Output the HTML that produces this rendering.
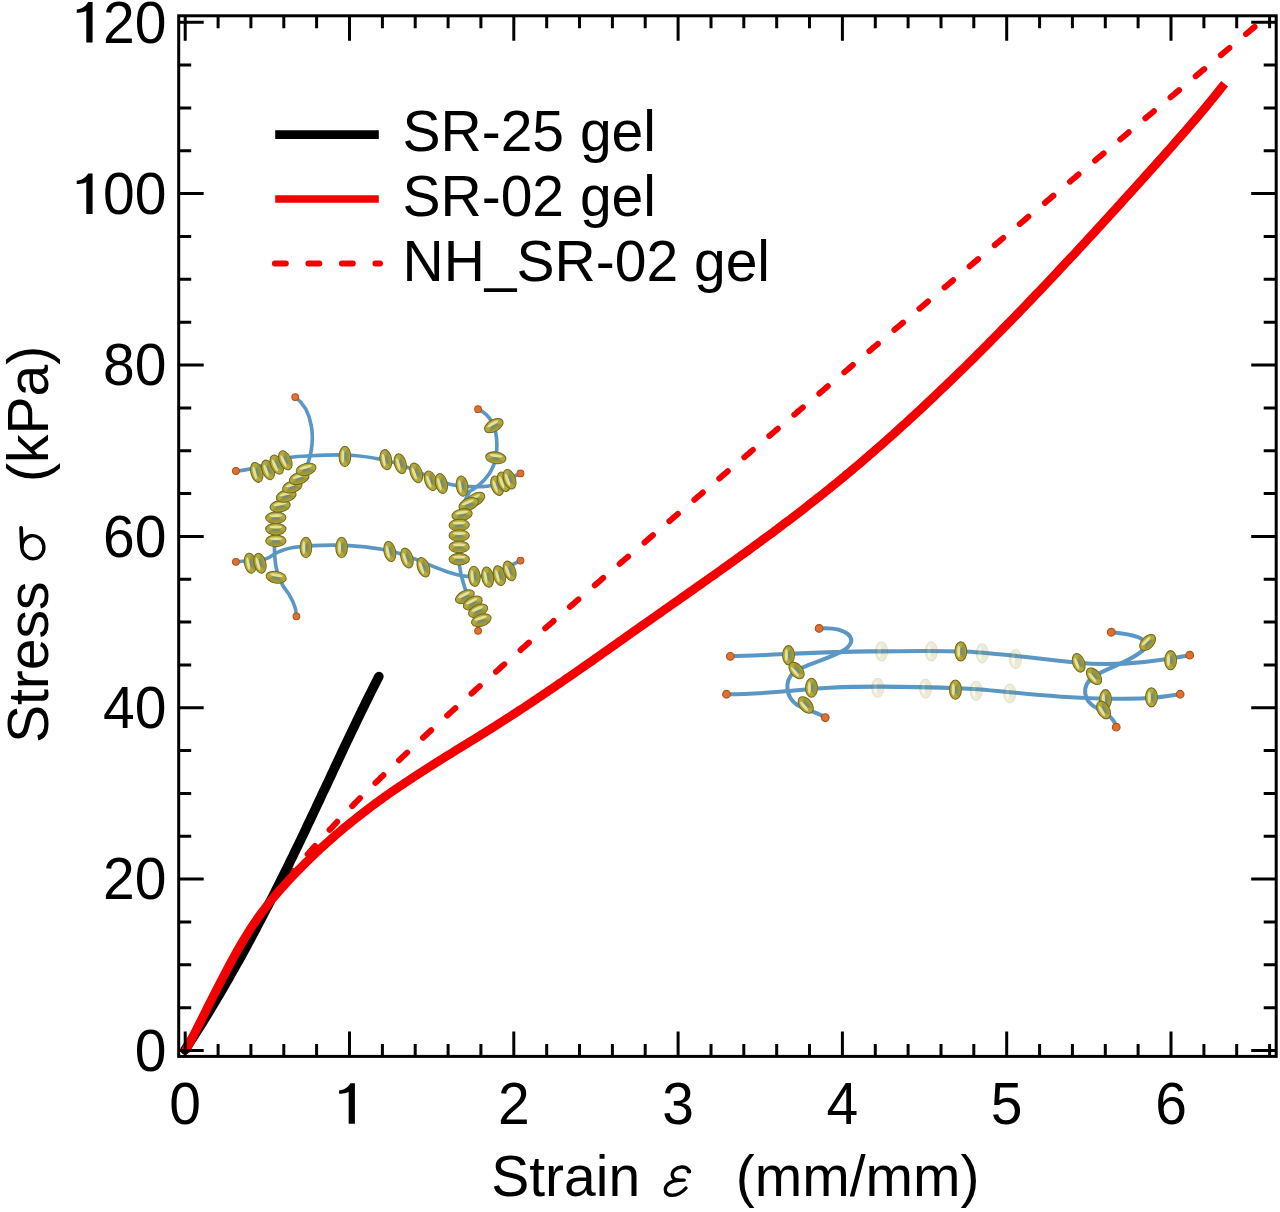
<!DOCTYPE html><html><head><meta charset="utf-8"><title>Stress-strain</title>
<style>html,body{margin:0;padding:0;background:#fff;}svg{display:block;}text{font-family:"Liberation Sans",sans-serif;}</style></head><body>
<svg width="1280" height="1212" viewBox="0 0 1280 1212">
<rect width="1280" height="1212" fill="#fff"/>
<g transform="translate(225,385) scale(0.24219)">
<path d="M45,355 C150,350 200,300 300,295 S450,285 520,290 S700,310 800,360 S950,420 1040,420 S1150,395 1220,365" fill="none" stroke="#5a97c5" stroke-width="15" stroke-linecap="round"/>
<path d="M290,50 C360,100 380,220 340,330 C300,420 210,500 205,620 C200,720 210,780 240,830 C280,880 295,920 295,955" fill="none" stroke="#5a97c5" stroke-width="15" stroke-linecap="round"/>
<path d="M45,730 C120,720 160,735 200,700 C250,670 300,665 400,662 S600,665 700,690 S900,780 1000,790 S1150,760 1220,725" fill="none" stroke="#5a97c5" stroke-width="15" stroke-linecap="round"/>
<path d="M1045,100 C1110,130 1130,200 1120,290 C1110,360 1060,410 1010,440 C960,520 955,650 965,730 C975,800 990,860 1030,920 C1050,960 1045,990 1045,1015" fill="none" stroke="#5a97c5" stroke-width="15" stroke-linecap="round"/>
<g transform="translate(131.0,361.0) rotate(-15.0)" opacity="1.0"><ellipse rx="24.0" ry="42.0" fill="#b0a840" stroke="#716a18" stroke-width="4.3"/><ellipse cx="10.1" rx="7.7" ry="30.2" fill="#8a8226" opacity="0.5"/><ellipse cx="-8.6" rx="6.2" ry="26.9" fill="#e8e08e"/><ellipse cx="2.9" rx="4.8" ry="18.5" fill="#6f8c84"/></g>
<g transform="translate(177.7,350.5) rotate(-20.0)" opacity="1.0"><ellipse rx="24.0" ry="42.0" fill="#b0a840" stroke="#716a18" stroke-width="4.3"/><ellipse cx="10.1" rx="7.7" ry="30.2" fill="#8a8226" opacity="0.5"/><ellipse cx="-8.6" rx="6.2" ry="26.9" fill="#e8e08e"/><ellipse cx="2.9" rx="4.8" ry="18.5" fill="#6f8c84"/></g>
<g transform="translate(213.6,328.9) rotate(-25.0)" opacity="1.0"><ellipse rx="24.0" ry="42.0" fill="#b0a840" stroke="#716a18" stroke-width="4.3"/><ellipse cx="10.1" rx="7.7" ry="30.2" fill="#8a8226" opacity="0.5"/><ellipse cx="-8.6" rx="6.2" ry="26.9" fill="#e8e08e"/><ellipse cx="2.9" rx="4.8" ry="18.5" fill="#6f8c84"/></g>
<g transform="translate(249.0,311.1) rotate(-25.0)" opacity="1.0"><ellipse rx="24.0" ry="42.0" fill="#b0a840" stroke="#716a18" stroke-width="4.3"/><ellipse cx="10.1" rx="7.7" ry="30.2" fill="#8a8226" opacity="0.5"/><ellipse cx="-8.6" rx="6.2" ry="26.9" fill="#e8e08e"/><ellipse cx="2.9" rx="4.8" ry="18.5" fill="#6f8c84"/></g>
<g transform="translate(495.0,295.0) rotate(0.0)" opacity="1.0"><ellipse rx="24.0" ry="42.0" fill="#b0a840" stroke="#716a18" stroke-width="4.3"/><ellipse cx="10.1" rx="7.7" ry="30.2" fill="#8a8226" opacity="0.5"/><ellipse cx="-8.6" rx="6.2" ry="26.9" fill="#e8e08e"/><ellipse cx="2.9" rx="4.8" ry="18.5" fill="#6f8c84"/></g>
<g transform="translate(664.0,308.5) rotate(-10.0)" opacity="1.0"><ellipse rx="24.0" ry="42.0" fill="#b0a840" stroke="#716a18" stroke-width="4.3"/><ellipse cx="10.1" rx="7.7" ry="30.2" fill="#8a8226" opacity="0.5"/><ellipse cx="-8.6" rx="6.2" ry="26.9" fill="#e8e08e"/><ellipse cx="2.9" rx="4.8" ry="18.5" fill="#6f8c84"/></g>
<g transform="translate(723.8,325.0) rotate(-15.0)" opacity="1.0"><ellipse rx="24.0" ry="42.0" fill="#b0a840" stroke="#716a18" stroke-width="4.3"/><ellipse cx="10.1" rx="7.7" ry="30.2" fill="#8a8226" opacity="0.5"/><ellipse cx="-8.6" rx="6.2" ry="26.9" fill="#e8e08e"/><ellipse cx="2.9" rx="4.8" ry="18.5" fill="#6f8c84"/></g>
<g transform="translate(789.5,362.9) rotate(-20.0)" opacity="1.0"><ellipse rx="24.0" ry="42.0" fill="#b0a840" stroke="#716a18" stroke-width="4.3"/><ellipse cx="10.1" rx="7.7" ry="30.2" fill="#8a8226" opacity="0.5"/><ellipse cx="-8.6" rx="6.2" ry="26.9" fill="#e8e08e"/><ellipse cx="2.9" rx="4.8" ry="18.5" fill="#6f8c84"/></g>
<g transform="translate(849.4,395.6) rotate(-20.0)" opacity="1.0"><ellipse rx="24.0" ry="42.0" fill="#b0a840" stroke="#716a18" stroke-width="4.3"/><ellipse cx="10.1" rx="7.7" ry="30.2" fill="#8a8226" opacity="0.5"/><ellipse cx="-8.6" rx="6.2" ry="26.9" fill="#e8e08e"/><ellipse cx="2.9" rx="4.8" ry="18.5" fill="#6f8c84"/></g>
<g transform="translate(893.1,406.7) rotate(-15.0)" opacity="1.0"><ellipse rx="24.0" ry="42.0" fill="#b0a840" stroke="#716a18" stroke-width="4.3"/><ellipse cx="10.1" rx="7.7" ry="30.2" fill="#8a8226" opacity="0.5"/><ellipse cx="-8.6" rx="6.2" ry="26.9" fill="#e8e08e"/><ellipse cx="2.9" rx="4.8" ry="18.5" fill="#6f8c84"/></g>
<g transform="translate(1033.9,472.4) rotate(60.0)" opacity="1.0"><ellipse rx="24.0" ry="42.0" fill="#b0a840" stroke="#716a18" stroke-width="4.3"/><ellipse cx="10.1" rx="7.7" ry="30.2" fill="#8a8226" opacity="0.5"/><ellipse cx="-8.6" rx="6.2" ry="26.9" fill="#e8e08e"/><ellipse cx="2.9" rx="4.8" ry="18.5" fill="#6f8c84"/></g>
<g transform="translate(1006.3,492.2) rotate(68.0)" opacity="1.0"><ellipse rx="24.0" ry="42.0" fill="#b0a840" stroke="#716a18" stroke-width="4.3"/><ellipse cx="10.1" rx="7.7" ry="30.2" fill="#8a8226" opacity="0.5"/><ellipse cx="-8.6" rx="6.2" ry="26.9" fill="#e8e08e"/><ellipse cx="2.9" rx="4.8" ry="18.5" fill="#6f8c84"/></g>
<g transform="translate(979.0,535.2) rotate(80.0)" opacity="1.0"><ellipse rx="24.0" ry="42.0" fill="#b0a840" stroke="#716a18" stroke-width="4.3"/><ellipse cx="10.1" rx="7.7" ry="30.2" fill="#8a8226" opacity="0.5"/><ellipse cx="-8.6" rx="6.2" ry="26.9" fill="#e8e08e"/><ellipse cx="2.9" rx="4.8" ry="18.5" fill="#6f8c84"/></g>
<g transform="translate(967.0,578.0) rotate(88.0)" opacity="1.0"><ellipse rx="24.0" ry="42.0" fill="#b0a840" stroke="#716a18" stroke-width="4.3"/><ellipse cx="10.1" rx="7.7" ry="30.2" fill="#8a8226" opacity="0.5"/><ellipse cx="-8.6" rx="6.2" ry="26.9" fill="#e8e08e"/><ellipse cx="2.9" rx="4.8" ry="18.5" fill="#6f8c84"/></g>
<g transform="translate(967.0,621.4) rotate(90.0)" opacity="1.0"><ellipse rx="24.0" ry="42.0" fill="#b0a840" stroke="#716a18" stroke-width="4.3"/><ellipse cx="10.1" rx="7.7" ry="30.2" fill="#8a8226" opacity="0.5"/><ellipse cx="-8.6" rx="6.2" ry="26.9" fill="#e8e08e"/><ellipse cx="2.9" rx="4.8" ry="18.5" fill="#6f8c84"/></g>
<g transform="translate(967.0,668.5) rotate(90.0)" opacity="1.0"><ellipse rx="24.0" ry="42.0" fill="#b0a840" stroke="#716a18" stroke-width="4.3"/><ellipse cx="10.1" rx="7.7" ry="30.2" fill="#8a8226" opacity="0.5"/><ellipse cx="-8.6" rx="6.2" ry="26.9" fill="#e8e08e"/><ellipse cx="2.9" rx="4.8" ry="18.5" fill="#6f8c84"/></g>
<g transform="translate(967.0,719.3) rotate(90.0)" opacity="1.0"><ellipse rx="24.0" ry="42.0" fill="#b0a840" stroke="#716a18" stroke-width="4.3"/><ellipse cx="10.1" rx="7.7" ry="30.2" fill="#8a8226" opacity="0.5"/><ellipse cx="-8.6" rx="6.2" ry="26.9" fill="#e8e08e"/><ellipse cx="2.9" rx="4.8" ry="18.5" fill="#6f8c84"/></g>
<g transform="translate(979.0,417.4) rotate(-8.0)" opacity="1.0"><ellipse rx="24.0" ry="42.0" fill="#b0a840" stroke="#716a18" stroke-width="4.3"/><ellipse cx="10.1" rx="7.7" ry="30.2" fill="#8a8226" opacity="0.5"/><ellipse cx="-8.6" rx="6.2" ry="26.9" fill="#e8e08e"/><ellipse cx="2.9" rx="4.8" ry="18.5" fill="#6f8c84"/></g>
<g transform="translate(1123.5,416.2) rotate(-20.0)" opacity="1.0"><ellipse rx="24.0" ry="42.0" fill="#b0a840" stroke="#716a18" stroke-width="4.3"/><ellipse cx="10.1" rx="7.7" ry="30.2" fill="#8a8226" opacity="0.5"/><ellipse cx="-8.6" rx="6.2" ry="26.9" fill="#e8e08e"/><ellipse cx="2.9" rx="4.8" ry="18.5" fill="#6f8c84"/></g>
<g transform="translate(1150.7,399.3) rotate(-20.0)" opacity="1.0"><ellipse rx="24.0" ry="42.0" fill="#b0a840" stroke="#716a18" stroke-width="4.3"/><ellipse cx="10.1" rx="7.7" ry="30.2" fill="#8a8226" opacity="0.5"/><ellipse cx="-8.6" rx="6.2" ry="26.9" fill="#e8e08e"/><ellipse cx="2.9" rx="4.8" ry="18.5" fill="#6f8c84"/></g>
<g transform="translate(1174.7,388.9) rotate(-20.0)" opacity="1.0"><ellipse rx="24.0" ry="42.0" fill="#b0a840" stroke="#716a18" stroke-width="4.3"/><ellipse cx="10.1" rx="7.7" ry="30.2" fill="#8a8226" opacity="0.5"/><ellipse cx="-8.6" rx="6.2" ry="26.9" fill="#e8e08e"/><ellipse cx="2.9" rx="4.8" ry="18.5" fill="#6f8c84"/></g>
<g transform="translate(1109.9,167.6) rotate(60.0)" opacity="1.0"><ellipse rx="24.0" ry="42.0" fill="#b0a840" stroke="#716a18" stroke-width="4.3"/><ellipse cx="10.1" rx="7.7" ry="30.2" fill="#8a8226" opacity="0.5"/><ellipse cx="-8.6" rx="6.2" ry="26.9" fill="#e8e08e"/><ellipse cx="2.9" rx="4.8" ry="18.5" fill="#6f8c84"/></g>
<g transform="translate(1118.1,300.6) rotate(98.0)" opacity="1.0"><ellipse rx="24.0" ry="42.0" fill="#b0a840" stroke="#716a18" stroke-width="4.3"/><ellipse cx="10.1" rx="7.7" ry="30.2" fill="#8a8226" opacity="0.5"/><ellipse cx="-8.6" rx="6.2" ry="26.9" fill="#e8e08e"/><ellipse cx="2.9" rx="4.8" ry="18.5" fill="#6f8c84"/></g>
<g transform="translate(209.8,643.3) rotate(90.0)" opacity="1.0"><ellipse rx="24.0" ry="42.0" fill="#b0a840" stroke="#716a18" stroke-width="4.3"/><ellipse cx="10.1" rx="7.7" ry="30.2" fill="#8a8226" opacity="0.5"/><ellipse cx="-8.6" rx="6.2" ry="26.9" fill="#e8e08e"/><ellipse cx="2.9" rx="4.8" ry="18.5" fill="#6f8c84"/></g>
<g transform="translate(209.8,595.0) rotate(90.0)" opacity="1.0"><ellipse rx="24.0" ry="42.0" fill="#b0a840" stroke="#716a18" stroke-width="4.3"/><ellipse cx="10.1" rx="7.7" ry="30.2" fill="#8a8226" opacity="0.5"/><ellipse cx="-8.6" rx="6.2" ry="26.9" fill="#e8e08e"/><ellipse cx="2.9" rx="4.8" ry="18.5" fill="#6f8c84"/></g>
<g transform="translate(209.8,548.0) rotate(88.0)" opacity="1.0"><ellipse rx="24.0" ry="42.0" fill="#b0a840" stroke="#716a18" stroke-width="4.3"/><ellipse cx="10.1" rx="7.7" ry="30.2" fill="#8a8226" opacity="0.5"/><ellipse cx="-8.6" rx="6.2" ry="26.9" fill="#e8e08e"/><ellipse cx="2.9" rx="4.8" ry="18.5" fill="#6f8c84"/></g>
<g transform="translate(227.5,500.0) rotate(80.0)" opacity="1.0"><ellipse rx="24.0" ry="42.0" fill="#b0a840" stroke="#716a18" stroke-width="4.3"/><ellipse cx="10.1" rx="7.7" ry="30.2" fill="#8a8226" opacity="0.5"/><ellipse cx="-8.6" rx="6.2" ry="26.9" fill="#e8e08e"/><ellipse cx="2.9" rx="4.8" ry="18.5" fill="#6f8c84"/></g>
<g transform="translate(252.7,458.0) rotate(74.0)" opacity="1.0"><ellipse rx="24.0" ry="42.0" fill="#b0a840" stroke="#716a18" stroke-width="4.3"/><ellipse cx="10.1" rx="7.7" ry="30.2" fill="#8a8226" opacity="0.5"/><ellipse cx="-8.6" rx="6.2" ry="26.9" fill="#e8e08e"/><ellipse cx="2.9" rx="4.8" ry="18.5" fill="#6f8c84"/></g>
<g transform="translate(277.9,420.0) rotate(72.0)" opacity="1.0"><ellipse rx="24.0" ry="42.0" fill="#b0a840" stroke="#716a18" stroke-width="4.3"/><ellipse cx="10.1" rx="7.7" ry="30.2" fill="#8a8226" opacity="0.5"/><ellipse cx="-8.6" rx="6.2" ry="26.9" fill="#e8e08e"/><ellipse cx="2.9" rx="4.8" ry="18.5" fill="#6f8c84"/></g>
<g transform="translate(306.4,385.0) rotate(72.0)" opacity="1.0"><ellipse rx="24.0" ry="42.0" fill="#b0a840" stroke="#716a18" stroke-width="4.3"/><ellipse cx="10.1" rx="7.7" ry="30.2" fill="#8a8226" opacity="0.5"/><ellipse cx="-8.6" rx="6.2" ry="26.9" fill="#e8e08e"/><ellipse cx="2.9" rx="4.8" ry="18.5" fill="#6f8c84"/></g>
<g transform="translate(334.9,348.0) rotate(75.0)" opacity="1.0"><ellipse rx="24.0" ry="42.0" fill="#b0a840" stroke="#716a18" stroke-width="4.3"/><ellipse cx="10.1" rx="7.7" ry="30.2" fill="#8a8226" opacity="0.5"/><ellipse cx="-8.6" rx="6.2" ry="26.9" fill="#e8e08e"/><ellipse cx="2.9" rx="4.8" ry="18.5" fill="#6f8c84"/></g>
<g transform="translate(104.2,736.0) rotate(-10.0)" opacity="1.0"><ellipse rx="24.0" ry="42.0" fill="#b0a840" stroke="#716a18" stroke-width="4.3"/><ellipse cx="10.1" rx="7.7" ry="30.2" fill="#8a8226" opacity="0.5"/><ellipse cx="-8.6" rx="6.2" ry="26.9" fill="#e8e08e"/><ellipse cx="2.9" rx="4.8" ry="18.5" fill="#6f8c84"/></g>
<g transform="translate(144.2,736.0) rotate(-15.0)" opacity="1.0"><ellipse rx="24.0" ry="42.0" fill="#b0a840" stroke="#716a18" stroke-width="4.3"/><ellipse cx="10.1" rx="7.7" ry="30.2" fill="#8a8226" opacity="0.5"/><ellipse cx="-8.6" rx="6.2" ry="26.9" fill="#e8e08e"/><ellipse cx="2.9" rx="4.8" ry="18.5" fill="#6f8c84"/></g>
<g transform="translate(211.4,793.6) rotate(100.0)" opacity="1.0"><ellipse rx="24.0" ry="42.0" fill="#b0a840" stroke="#716a18" stroke-width="4.3"/><ellipse cx="10.1" rx="7.7" ry="30.2" fill="#8a8226" opacity="0.5"/><ellipse cx="-8.6" rx="6.2" ry="26.9" fill="#e8e08e"/><ellipse cx="2.9" rx="4.8" ry="18.5" fill="#6f8c84"/></g>
<g transform="translate(334.1,671.0) rotate(0.0)" opacity="1.0"><ellipse rx="24.0" ry="42.0" fill="#b0a840" stroke="#716a18" stroke-width="4.3"/><ellipse cx="10.1" rx="7.7" ry="30.2" fill="#8a8226" opacity="0.5"/><ellipse cx="-8.6" rx="6.2" ry="26.9" fill="#e8e08e"/><ellipse cx="2.9" rx="4.8" ry="18.5" fill="#6f8c84"/></g>
<g transform="translate(481.5,671.0) rotate(0.0)" opacity="1.0"><ellipse rx="24.0" ry="42.0" fill="#b0a840" stroke="#716a18" stroke-width="4.3"/><ellipse cx="10.1" rx="7.7" ry="30.2" fill="#8a8226" opacity="0.5"/><ellipse cx="-8.6" rx="6.2" ry="26.9" fill="#e8e08e"/><ellipse cx="2.9" rx="4.8" ry="18.5" fill="#6f8c84"/></g>
<g transform="translate(680.5,687.5) rotate(-12.0)" opacity="1.0"><ellipse rx="24.0" ry="42.0" fill="#b0a840" stroke="#716a18" stroke-width="4.3"/><ellipse cx="10.1" rx="7.7" ry="30.2" fill="#8a8226" opacity="0.5"/><ellipse cx="-8.6" rx="6.2" ry="26.9" fill="#e8e08e"/><ellipse cx="2.9" rx="4.8" ry="18.5" fill="#6f8c84"/></g>
<g transform="translate(751.1,714.3) rotate(-18.0)" opacity="1.0"><ellipse rx="24.0" ry="42.0" fill="#b0a840" stroke="#716a18" stroke-width="4.3"/><ellipse cx="10.1" rx="7.7" ry="30.2" fill="#8a8226" opacity="0.5"/><ellipse cx="-8.6" rx="6.2" ry="26.9" fill="#e8e08e"/><ellipse cx="2.9" rx="4.8" ry="18.5" fill="#6f8c84"/></g>
<g transform="translate(819.2,752.7) rotate(-20.0)" opacity="1.0"><ellipse rx="24.0" ry="42.0" fill="#b0a840" stroke="#716a18" stroke-width="4.3"/><ellipse cx="10.1" rx="7.7" ry="30.2" fill="#8a8226" opacity="0.5"/><ellipse cx="-8.6" rx="6.2" ry="26.9" fill="#e8e08e"/><ellipse cx="2.9" rx="4.8" ry="18.5" fill="#6f8c84"/></g>
<g transform="translate(1029.4,789.9) rotate(-5.0)" opacity="1.0"><ellipse rx="24.0" ry="42.0" fill="#b0a840" stroke="#716a18" stroke-width="4.3"/><ellipse cx="10.1" rx="7.7" ry="30.2" fill="#8a8226" opacity="0.5"/><ellipse cx="-8.6" rx="6.2" ry="26.9" fill="#e8e08e"/><ellipse cx="2.9" rx="4.8" ry="18.5" fill="#6f8c84"/></g>
<g transform="translate(1084.3,793.2) rotate(-10.0)" opacity="1.0"><ellipse rx="24.0" ry="42.0" fill="#b0a840" stroke="#716a18" stroke-width="4.3"/><ellipse cx="10.1" rx="7.7" ry="30.2" fill="#8a8226" opacity="0.5"/><ellipse cx="-8.6" rx="6.2" ry="26.9" fill="#e8e08e"/><ellipse cx="2.9" rx="4.8" ry="18.5" fill="#6f8c84"/></g>
<g transform="translate(1133.0,787.0) rotate(-15.0)" opacity="1.0"><ellipse rx="24.0" ry="42.0" fill="#b0a840" stroke="#716a18" stroke-width="4.3"/><ellipse cx="10.1" rx="7.7" ry="30.2" fill="#8a8226" opacity="0.5"/><ellipse cx="-8.6" rx="6.2" ry="26.9" fill="#e8e08e"/><ellipse cx="2.9" rx="4.8" ry="18.5" fill="#6f8c84"/></g>
<g transform="translate(1175.1,767.6) rotate(-20.0)" opacity="1.0"><ellipse rx="24.0" ry="42.0" fill="#b0a840" stroke="#716a18" stroke-width="4.3"/><ellipse cx="10.1" rx="7.7" ry="30.2" fill="#8a8226" opacity="0.5"/><ellipse cx="-8.6" rx="6.2" ry="26.9" fill="#e8e08e"/><ellipse cx="2.9" rx="4.8" ry="18.5" fill="#6f8c84"/></g>
<g transform="translate(990.6,874.1) rotate(63.0)" opacity="1.0"><ellipse rx="24.0" ry="42.0" fill="#b0a840" stroke="#716a18" stroke-width="4.3"/><ellipse cx="10.1" rx="7.7" ry="30.2" fill="#8a8226" opacity="0.5"/><ellipse cx="-8.6" rx="6.2" ry="26.9" fill="#e8e08e"/><ellipse cx="2.9" rx="4.8" ry="18.5" fill="#6f8c84"/></g>
<g transform="translate(1022.8,900.0) rotate(63.0)" opacity="1.0"><ellipse rx="24.0" ry="42.0" fill="#b0a840" stroke="#716a18" stroke-width="4.3"/><ellipse cx="10.1" rx="7.7" ry="30.2" fill="#8a8226" opacity="0.5"/><ellipse cx="-8.6" rx="6.2" ry="26.9" fill="#e8e08e"/><ellipse cx="2.9" rx="4.8" ry="18.5" fill="#6f8c84"/></g>
<g transform="translate(1045.0,932.0) rotate(66.0)" opacity="1.0"><ellipse rx="24.0" ry="42.0" fill="#b0a840" stroke="#716a18" stroke-width="4.3"/><ellipse cx="10.1" rx="7.7" ry="30.2" fill="#8a8226" opacity="0.5"/><ellipse cx="-8.6" rx="6.2" ry="26.9" fill="#e8e08e"/><ellipse cx="2.9" rx="4.8" ry="18.5" fill="#6f8c84"/></g>
<g transform="translate(1058.4,971.0) rotate(72.0)" opacity="1.0"><ellipse rx="24.0" ry="42.0" fill="#b0a840" stroke="#716a18" stroke-width="4.3"/><ellipse cx="10.1" rx="7.7" ry="30.2" fill="#8a8226" opacity="0.5"/><ellipse cx="-8.6" rx="6.2" ry="26.9" fill="#e8e08e"/><ellipse cx="2.9" rx="4.8" ry="18.5" fill="#6f8c84"/></g>
<circle cx="290" cy="50" r="14" fill="#e0702e" stroke="#b0501a" stroke-width="4.2"/>
<circle cx="45" cy="355" r="14" fill="#e0702e" stroke="#b0501a" stroke-width="4.2"/>
<circle cx="1045" cy="100" r="14" fill="#e0702e" stroke="#b0501a" stroke-width="4.2"/>
<circle cx="1220" cy="365" r="14" fill="#e0702e" stroke="#b0501a" stroke-width="4.2"/>
<circle cx="45" cy="730" r="14" fill="#e0702e" stroke="#b0501a" stroke-width="4.2"/>
<circle cx="295" cy="955" r="14" fill="#e0702e" stroke="#b0501a" stroke-width="4.2"/>
<circle cx="1220" cy="725" r="14" fill="#e0702e" stroke="#b0501a" stroke-width="4.2"/>
<circle cx="1045" cy="1015" r="14" fill="#e0702e" stroke="#b0501a" stroke-width="4.2"/>
</g>
<g transform="translate(715,615) scale(0.38285)">
<path d="M40,108 C150,105 300,95 400,95 S600,92 680,97 S850,115 950,125 S1150,122 1240,105" fill="none" stroke="#5a97c5" stroke-width="10.5" stroke-linecap="round"/>
<path d="M30,207 C150,207 200,195 300,190 S550,188 650,192 S850,215 1000,218 S1150,215 1215,207" fill="none" stroke="#5a97c5" stroke-width="10.5" stroke-linecap="round"/>
<path d="M272,35 C340,30 380,60 340,90 C300,115 230,130 205,150 C180,175 185,215 215,235 C240,250 270,255 288,268" fill="none" stroke="#5a97c5" stroke-width="10.5" stroke-linecap="round"/>
<path d="M1035,45 C1090,50 1140,60 1120,90 C1090,120 1020,140 990,160 C955,185 960,225 1000,245 C1030,260 1045,275 1048,293" fill="none" stroke="#5a97c5" stroke-width="10.5" stroke-linecap="round"/>
<g transform="translate(435.0,95.0) rotate(0.0)" opacity="0.2"><ellipse rx="15.5" ry="25.0" fill="#b0a840" stroke="#716a18" stroke-width="2.8"/><ellipse cx="6.5" rx="5.0" ry="18.0" fill="#8a8226" opacity="0.5"/><ellipse cx="-5.6" rx="4.0" ry="16.0" fill="#e8e08e"/><ellipse cx="1.9" rx="3.1" ry="11.0" fill="#6f8c84"/></g>
<g transform="translate(565.0,95.0) rotate(0.0)" opacity="0.2"><ellipse rx="15.5" ry="25.0" fill="#b0a840" stroke="#716a18" stroke-width="2.8"/><ellipse cx="6.5" rx="5.0" ry="18.0" fill="#8a8226" opacity="0.5"/><ellipse cx="-5.6" rx="4.0" ry="16.0" fill="#e8e08e"/><ellipse cx="1.9" rx="3.1" ry="11.0" fill="#6f8c84"/></g>
<g transform="translate(698.0,100.0) rotate(0.0)" opacity="0.2"><ellipse rx="15.5" ry="25.0" fill="#b0a840" stroke="#716a18" stroke-width="2.8"/><ellipse cx="6.5" rx="5.0" ry="18.0" fill="#8a8226" opacity="0.5"/><ellipse cx="-5.6" rx="4.0" ry="16.0" fill="#e8e08e"/><ellipse cx="1.9" rx="3.1" ry="11.0" fill="#6f8c84"/></g>
<g transform="translate(785.0,115.0) rotate(0.0)" opacity="0.2"><ellipse rx="15.5" ry="25.0" fill="#b0a840" stroke="#716a18" stroke-width="2.8"/><ellipse cx="6.5" rx="5.0" ry="18.0" fill="#8a8226" opacity="0.5"/><ellipse cx="-5.6" rx="4.0" ry="16.0" fill="#e8e08e"/><ellipse cx="1.9" rx="3.1" ry="11.0" fill="#6f8c84"/></g>
<g transform="translate(425.0,190.0) rotate(0.0)" opacity="0.2"><ellipse rx="15.5" ry="25.0" fill="#b0a840" stroke="#716a18" stroke-width="2.8"/><ellipse cx="6.5" rx="5.0" ry="18.0" fill="#8a8226" opacity="0.5"/><ellipse cx="-5.6" rx="4.0" ry="16.0" fill="#e8e08e"/><ellipse cx="1.9" rx="3.1" ry="11.0" fill="#6f8c84"/></g>
<g transform="translate(550.0,192.0) rotate(0.0)" opacity="0.2"><ellipse rx="15.5" ry="25.0" fill="#b0a840" stroke="#716a18" stroke-width="2.8"/><ellipse cx="6.5" rx="5.0" ry="18.0" fill="#8a8226" opacity="0.5"/><ellipse cx="-5.6" rx="4.0" ry="16.0" fill="#e8e08e"/><ellipse cx="1.9" rx="3.1" ry="11.0" fill="#6f8c84"/></g>
<g transform="translate(682.0,198.0) rotate(0.0)" opacity="0.2"><ellipse rx="15.5" ry="25.0" fill="#b0a840" stroke="#716a18" stroke-width="2.8"/><ellipse cx="6.5" rx="5.0" ry="18.0" fill="#8a8226" opacity="0.5"/><ellipse cx="-5.6" rx="4.0" ry="16.0" fill="#e8e08e"/><ellipse cx="1.9" rx="3.1" ry="11.0" fill="#6f8c84"/></g>
<g transform="translate(770.0,205.0) rotate(0.0)" opacity="0.2"><ellipse rx="15.5" ry="25.0" fill="#b0a840" stroke="#716a18" stroke-width="2.8"/><ellipse cx="6.5" rx="5.0" ry="18.0" fill="#8a8226" opacity="0.5"/><ellipse cx="-5.6" rx="4.0" ry="16.0" fill="#e8e08e"/><ellipse cx="1.9" rx="3.1" ry="11.0" fill="#6f8c84"/></g>
<g transform="translate(192.0,105.0) rotate(0.0)" opacity="1.0"><ellipse rx="15.5" ry="25.0" fill="#b0a840" stroke="#716a18" stroke-width="2.8"/><ellipse cx="6.5" rx="5.0" ry="18.0" fill="#8a8226" opacity="0.5"/><ellipse cx="-5.6" rx="4.0" ry="16.0" fill="#e8e08e"/><ellipse cx="1.9" rx="3.1" ry="11.0" fill="#6f8c84"/></g>
<g transform="translate(213.0,145.0) rotate(-40.0)" opacity="1.0"><ellipse rx="15.5" ry="25.0" fill="#b0a840" stroke="#716a18" stroke-width="2.8"/><ellipse cx="6.5" rx="5.0" ry="18.0" fill="#8a8226" opacity="0.5"/><ellipse cx="-5.6" rx="4.0" ry="16.0" fill="#e8e08e"/><ellipse cx="1.9" rx="3.1" ry="11.0" fill="#6f8c84"/></g>
<g transform="translate(252.0,190.0) rotate(0.0)" opacity="1.0"><ellipse rx="15.5" ry="25.0" fill="#b0a840" stroke="#716a18" stroke-width="2.8"/><ellipse cx="6.5" rx="5.0" ry="18.0" fill="#8a8226" opacity="0.5"/><ellipse cx="-5.6" rx="4.0" ry="16.0" fill="#e8e08e"/><ellipse cx="1.9" rx="3.1" ry="11.0" fill="#6f8c84"/></g>
<g transform="translate(237.0,235.0) rotate(-40.0)" opacity="1.0"><ellipse rx="15.5" ry="25.0" fill="#b0a840" stroke="#716a18" stroke-width="2.8"/><ellipse cx="6.5" rx="5.0" ry="18.0" fill="#8a8226" opacity="0.5"/><ellipse cx="-5.6" rx="4.0" ry="16.0" fill="#e8e08e"/><ellipse cx="1.9" rx="3.1" ry="11.0" fill="#6f8c84"/></g>
<g transform="translate(642.0,95.0) rotate(0.0)" opacity="1.0"><ellipse rx="15.5" ry="25.0" fill="#b0a840" stroke="#716a18" stroke-width="2.8"/><ellipse cx="6.5" rx="5.0" ry="18.0" fill="#8a8226" opacity="0.5"/><ellipse cx="-5.6" rx="4.0" ry="16.0" fill="#e8e08e"/><ellipse cx="1.9" rx="3.1" ry="11.0" fill="#6f8c84"/></g>
<g transform="translate(628.0,195.0) rotate(0.0)" opacity="1.0"><ellipse rx="15.5" ry="25.0" fill="#b0a840" stroke="#716a18" stroke-width="2.8"/><ellipse cx="6.5" rx="5.0" ry="18.0" fill="#8a8226" opacity="0.5"/><ellipse cx="-5.6" rx="4.0" ry="16.0" fill="#e8e08e"/><ellipse cx="1.9" rx="3.1" ry="11.0" fill="#6f8c84"/></g>
<g transform="translate(950.0,125.0) rotate(-20.0)" opacity="1.0"><ellipse rx="15.5" ry="25.0" fill="#b0a840" stroke="#716a18" stroke-width="2.8"/><ellipse cx="6.5" rx="5.0" ry="18.0" fill="#8a8226" opacity="0.5"/><ellipse cx="-5.6" rx="4.0" ry="16.0" fill="#e8e08e"/><ellipse cx="1.9" rx="3.1" ry="11.0" fill="#6f8c84"/></g>
<g transform="translate(990.0,160.0) rotate(-40.0)" opacity="1.0"><ellipse rx="15.5" ry="25.0" fill="#b0a840" stroke="#716a18" stroke-width="2.8"/><ellipse cx="6.5" rx="5.0" ry="18.0" fill="#8a8226" opacity="0.5"/><ellipse cx="-5.6" rx="4.0" ry="16.0" fill="#e8e08e"/><ellipse cx="1.9" rx="3.1" ry="11.0" fill="#6f8c84"/></g>
<g transform="translate(1020.0,220.0) rotate(0.0)" opacity="1.0"><ellipse rx="15.5" ry="25.0" fill="#b0a840" stroke="#716a18" stroke-width="2.8"/><ellipse cx="6.5" rx="5.0" ry="18.0" fill="#8a8226" opacity="0.5"/><ellipse cx="-5.6" rx="4.0" ry="16.0" fill="#e8e08e"/><ellipse cx="1.9" rx="3.1" ry="11.0" fill="#6f8c84"/></g>
<g transform="translate(1015.0,248.0) rotate(-30.0)" opacity="1.0"><ellipse rx="15.5" ry="25.0" fill="#b0a840" stroke="#716a18" stroke-width="2.8"/><ellipse cx="6.5" rx="5.0" ry="18.0" fill="#8a8226" opacity="0.5"/><ellipse cx="-5.6" rx="4.0" ry="16.0" fill="#e8e08e"/><ellipse cx="1.9" rx="3.1" ry="11.0" fill="#6f8c84"/></g>
<g transform="translate(1130.0,72.0) rotate(45.0)" opacity="1.0"><ellipse rx="15.5" ry="25.0" fill="#b0a840" stroke="#716a18" stroke-width="2.8"/><ellipse cx="6.5" rx="5.0" ry="18.0" fill="#8a8226" opacity="0.5"/><ellipse cx="-5.6" rx="4.0" ry="16.0" fill="#e8e08e"/><ellipse cx="1.9" rx="3.1" ry="11.0" fill="#6f8c84"/></g>
<g transform="translate(1190.0,118.0) rotate(0.0)" opacity="1.0"><ellipse rx="15.5" ry="25.0" fill="#b0a840" stroke="#716a18" stroke-width="2.8"/><ellipse cx="6.5" rx="5.0" ry="18.0" fill="#8a8226" opacity="0.5"/><ellipse cx="-5.6" rx="4.0" ry="16.0" fill="#e8e08e"/><ellipse cx="1.9" rx="3.1" ry="11.0" fill="#6f8c84"/></g>
<g transform="translate(1140.0,215.0) rotate(0.0)" opacity="1.0"><ellipse rx="15.5" ry="25.0" fill="#b0a840" stroke="#716a18" stroke-width="2.8"/><ellipse cx="6.5" rx="5.0" ry="18.0" fill="#8a8226" opacity="0.5"/><ellipse cx="-5.6" rx="4.0" ry="16.0" fill="#e8e08e"/><ellipse cx="1.9" rx="3.1" ry="11.0" fill="#6f8c84"/></g>
<circle cx="40" cy="108" r="10" fill="#e0702e" stroke="#b0501a" stroke-width="3.0"/>
<circle cx="272" cy="35" r="10" fill="#e0702e" stroke="#b0501a" stroke-width="3.0"/>
<circle cx="30" cy="207" r="10" fill="#e0702e" stroke="#b0501a" stroke-width="3.0"/>
<circle cx="288" cy="268" r="10" fill="#e0702e" stroke="#b0501a" stroke-width="3.0"/>
<circle cx="1035" cy="45" r="10" fill="#e0702e" stroke="#b0501a" stroke-width="3.0"/>
<circle cx="1240" cy="105" r="10" fill="#e0702e" stroke="#b0501a" stroke-width="3.0"/>
<circle cx="1215" cy="207" r="10" fill="#e0702e" stroke="#b0501a" stroke-width="3.0"/>
<circle cx="1048" cy="293" r="10" fill="#e0702e" stroke="#b0501a" stroke-width="3.0"/>
</g>
<path d="M185.2,1051.4 L187.3,1047.3 L189.5,1043.2 L191.6,1039.0 L193.8,1034.8 L195.9,1030.6 L198.1,1026.4 L200.2,1022.1 L202.4,1017.8 L204.5,1013.6 L206.7,1009.3 L208.8,1005.0 L211.0,1000.7 L213.1,996.4 L215.3,992.2 L217.4,988.0 L219.6,983.8 L221.7,979.6 L223.9,975.4 L226.0,971.3 L228.2,967.3 L230.3,963.3 L232.5,959.3 L234.6,955.5 L236.8,951.6 L238.9,947.9 L241.1,944.2 L243.2,940.5 L245.4,937.0 L247.5,933.5 L249.7,930.1 L251.8,926.8 L254.0,923.5 L256.1,920.4 L258.3,917.3 L260.4,914.3 L262.6,911.4 L264.7,908.5 L266.9,905.7 L269.0,902.9 L271.2,900.1 L273.3,897.3 L275.5,894.5 L277.6,891.8 L279.8,889.0 L281.9,886.2 L284.1,883.4 L286.2,880.6 L288.4,877.8 L290.5,875.0 L292.7,872.2 L294.8,869.4 L297.0,866.7 L299.1,864.1 L301.3,861.6 L303.4,859.1 L305.6,856.6 L307.7,854.2 L309.9,851.7 L312.0,849.3 L314.2,846.9 L316.3,844.5 L318.5,842.1 L320.6,839.7 L322.8,837.3 L324.9,835.0 L327.1,832.6 L329.2,830.3 L331.4,828.0 L333.5,825.7 L335.7,823.4 L337.8,821.1 L340.0,818.8 L342.1,816.5 L344.3,814.3 L346.4,812.0 L348.6,809.8 L350.7,807.6 L352.9,805.4 L355.0,803.2 L357.2,801.0 L359.3,798.8 L361.5,796.7 L363.6,794.6 L365.8,792.4 L367.9,790.3 L370.1,788.2 L372.2,786.1 L374.4,784.0 L376.5,781.9 L378.7,779.8 L380.8,777.7 L383.0,775.6 L385.1,773.5 L387.3,771.5 L389.4,769.4 L391.6,767.4 L393.7,765.3 L395.9,763.3 L398.0,761.2 L400.2,759.2 L402.3,757.1 L404.5,755.1 L406.6,753.1 L408.8,751.1 L410.9,749.0 L413.1,747.0 L415.2,745.0 L417.4,743.0 L419.5,741.0 L421.7,739.0 L423.8,737.0 L426.0,735.0 L428.1,733.0 L430.3,731.1 L432.4,729.1 L434.6,727.1 L436.7,725.1 L438.9,723.1 L441.0,721.2 L443.2,719.2 L445.3,717.3 L447.5,715.3 L449.6,713.3 L451.8,711.4 L453.9,709.4 L456.1,707.5 L458.2,705.5 L460.4,703.6 L462.5,701.6 L464.7,699.7 L466.8,697.8 L469.0,695.8 L471.1,693.9 L473.3,692.0 L475.4,690.0 L477.6,688.1 L479.7,686.2 L481.9,684.3 L484.0,682.3 L486.2,680.4 L488.3,678.5 L490.5,676.6 L492.6,674.7 L494.8,672.8 L496.9,670.9 L499.1,669.0 L501.2,667.0 L503.4,665.1 L505.5,663.2 L507.7,661.3 L509.8,659.4 L512.0,657.5 L514.1,655.6 L516.3,653.7 L518.4,651.8 L520.6,650.0 L522.7,648.1 L524.9,646.2 L527.0,644.3 L529.2,642.4 L531.3,640.5 L533.5,638.6 L535.6,636.7 L537.8,634.9 L539.9,633.0 L542.1,631.1 L544.2,629.2 L546.4,627.3 L548.5,625.5 L550.7,623.6 L552.8,621.7 L555.0,619.8 L557.1,618.0 L559.3,616.1 L561.4,614.2 L563.6,612.3 L565.7,610.5 L567.9,608.6 L570.0,606.7 L572.2,604.9 L574.3,603.0 L576.5,601.1 L578.6,599.3 L580.8,597.4 L582.9,595.6 L585.1,593.7 L587.2,591.8 L589.4,590.0 L591.5,588.1 L593.7,586.2 L595.8,584.4 L598.0,582.5 L600.1,580.7 L602.3,578.8 L604.4,577.0 L606.6,575.1 L608.7,573.3 L610.9,571.4 L613.0,569.5 L615.2,567.7 L617.3,565.8 L619.5,564.0 L621.6,562.1 L623.8,560.3 L625.9,558.4 L628.1,556.6 L630.2,554.7 L632.4,552.9 L634.5,551.0 L636.7,549.2 L638.8,547.4 L641.0,545.5 L643.1,543.7 L645.3,541.8 L647.4,540.0 L649.6,538.1 L651.7,536.3 L653.9,534.4 L656.0,532.6 L658.2,530.8 L660.3,528.9 L662.5,527.1 L664.6,525.2 L666.8,523.4 L668.9,521.5 L671.1,519.7 L673.2,517.9 L675.4,516.0 L677.5,514.2 L679.7,512.3 L681.8,510.5 L684.0,508.7 L686.1,506.8 L688.3,505.0 L690.4,503.2 L692.6,501.3 L694.7,499.5 L696.9,497.6 L699.0,495.8 L701.2,494.0 L703.3,492.1 L705.5,490.3 L707.6,488.5 L709.8,486.6 L711.9,484.8 L714.1,483.0 L716.2,481.1 L718.4,479.3 L720.5,477.5 L722.7,475.6 L724.8,473.8 L727.0,472.0 L729.1,470.1 L731.3,468.3 L733.4,466.5 L735.6,464.6 L737.7,462.8 L739.9,461.0 L742.0,459.2 L744.2,457.3 L746.3,455.5 L748.5,453.7 L750.6,451.8 L752.8,450.0 L754.9,448.2 L757.1,446.3 L759.2,444.5 L761.4,442.7 L763.5,440.9 L765.7,439.0 L767.8,437.2 L770.0,435.4 L772.1,433.5 L774.3,431.7 L776.4,429.9 L778.6,428.1 L780.7,426.2 L782.9,424.4 L785.0,422.6 L787.2,420.8 L789.3,418.9 L791.5,417.1 L793.6,415.3 L795.8,413.5 L797.9,411.6 L800.1,409.8 L802.2,408.0 L804.4,406.2 L806.5,404.3 L808.7,402.5 L810.8,400.7 L813.0,398.9 L815.1,397.0 L817.3,395.2 L819.4,393.4 L821.6,391.6 L823.7,389.7 L825.9,387.9 L828.0,386.1 L830.2,384.3 L832.3,382.4 L834.5,380.6 L836.6,378.8 L838.8,377.0 L840.9,375.2 L843.1,373.3 L845.2,371.5 L847.4,369.7 L849.5,367.9 L851.7,366.0 L853.8,364.2 L856.0,362.4 L858.1,360.6 L860.3,358.8 L862.4,356.9 L864.6,355.1 L866.7,353.3 L868.9,351.5 L871.0,349.7 L873.2,347.8 L875.3,346.0 L877.5,344.2 L879.6,342.4 L881.8,340.5 L883.9,338.7 L886.1,336.9 L888.2,335.1 L890.4,333.3 L892.5,331.5 L894.7,329.6 L896.8,327.8 L899.0,326.0 L901.1,324.2 L903.3,322.4 L905.4,320.5 L907.6,318.7 L909.7,316.9 L911.9,315.1 L914.0,313.3 L916.2,311.4 L918.3,309.6 L920.5,307.8 L922.6,306.0 L924.8,304.2 L926.9,302.4 L929.1,300.5 L931.2,298.7 L933.4,296.9 L935.5,295.1 L937.7,293.3 L939.8,291.5 L942.0,289.6 L944.1,287.8 L946.3,286.0 L948.4,284.2 L950.6,282.4 L952.7,280.6 L954.9,278.7 L957.0,276.9 L959.2,275.1 L961.3,273.3 L963.5,271.5 L965.6,269.7 L967.8,267.8 L969.9,266.0 L972.1,264.2 L974.2,262.4 L976.4,260.6 L978.5,258.8 L980.7,257.0 L982.8,255.1 L985.0,253.3 L987.1,251.5 L989.3,249.7 L991.4,247.9 L993.6,246.1 L995.7,244.3 L997.9,242.4 L1000.0,240.6 L1002.2,238.8 L1004.3,237.0 L1006.5,235.2 L1008.6,233.4 L1010.8,231.6 L1012.9,229.7 L1015.1,227.9 L1017.2,226.1 L1019.4,224.3 L1021.5,222.5 L1023.7,220.7 L1025.8,218.9 L1028.0,217.1 L1030.1,215.2 L1032.3,213.4 L1034.4,211.6 L1036.6,209.8 L1038.7,208.0 L1040.9,206.2 L1043.0,204.4 L1045.2,202.6 L1047.3,200.8 L1049.5,198.9 L1051.6,197.1 L1053.8,195.3 L1055.9,193.5 L1058.1,191.7 L1060.2,189.9 L1062.4,188.1 L1064.5,186.3 L1066.7,184.5 L1068.8,182.7 L1071.0,180.8 L1073.1,179.0 L1075.3,177.2 L1077.4,175.4 L1079.6,173.6 L1081.7,171.8 L1083.9,170.0 L1086.0,168.2 L1088.2,166.4 L1090.3,164.6 L1092.5,162.8 L1094.6,161.0 L1096.8,159.1 L1098.9,157.3 L1101.1,155.5 L1103.2,153.7 L1105.4,151.9 L1107.5,150.1 L1109.7,148.3 L1111.8,146.5 L1114.0,144.7 L1116.1,142.9 L1118.3,141.1 L1120.4,139.3 L1122.6,137.5 L1124.7,135.7 L1126.9,133.9 L1129.0,132.0 L1131.2,130.2 L1133.3,128.4 L1135.5,126.6 L1137.6,124.8 L1139.8,123.0 L1141.9,121.2 L1144.1,119.4 L1146.2,117.6 L1148.4,115.8 L1150.5,114.0 L1152.7,112.2 L1154.8,110.4 L1157.0,108.6 L1159.1,106.8 L1161.3,105.0 L1163.4,103.2 L1165.6,101.4 L1167.7,99.6 L1169.9,97.8 L1172.0,96.0 L1174.2,94.2 L1176.3,92.4 L1178.5,90.6 L1180.6,88.8 L1182.8,87.0 L1184.9,85.2 L1187.1,83.4 L1189.2,81.6 L1191.4,79.8 L1193.5,78.0 L1195.7,76.2 L1197.8,74.4 L1200.0,72.6 L1202.1,70.8 L1204.3,69.0 L1206.4,67.2 L1208.6,65.4 L1210.7,63.6 L1212.9,61.8 L1215.0,60.0 L1217.2,58.2 L1219.3,56.4 L1221.5,54.6 L1223.6,52.8 L1225.8,51.0 L1227.9,49.2 L1230.1,47.4 L1232.2,45.6 L1234.4,43.8 L1236.5,42.0 L1238.7,40.2 L1240.8,38.4 L1243.0,36.6 L1245.1,34.8 L1247.3,33.0 L1249.4,31.2 L1251.6,29.4 L1253.7,27.6 L1255.9,25.9 L1258.0,24.1" fill="none" stroke="#f50000" stroke-width="6" stroke-linecap="round" stroke-dasharray="11.1 21.72" stroke-dashoffset="-3.17"/>
<path d="M185.0,1049.8 L187.5,1046.1 L189.9,1042.3 L192.4,1038.5 L194.8,1034.7 L197.3,1030.8 L199.7,1026.9 L202.2,1023.0 L204.6,1019.0 L207.1,1015.0 L209.5,1011.0 L212.0,1006.9 L214.5,1002.8 L216.9,998.7 L219.4,994.6 L221.8,990.4 L224.3,986.1 L226.7,981.9 L229.2,977.6 L231.6,973.3 L234.1,968.9 L236.5,964.5 L239.0,960.1 L241.5,955.7 L243.9,951.2 L246.4,946.7 L248.8,942.1 L251.3,937.6 L253.7,933.0 L256.2,928.4 L258.6,923.7 L261.1,919.0 L263.5,914.3 L266.0,909.6 L268.5,904.8 L270.9,900.0 L273.4,895.2 L275.8,890.4 L278.3,885.5 L280.7,880.6 L283.2,875.7 L285.6,870.8 L288.1,865.8 L290.5,860.8 L293.0,855.8 L295.4,850.7 L297.9,845.6 L300.4,840.5 L302.8,835.4 L305.3,830.3 L307.7,825.1 L310.2,819.9 L312.6,814.7 L315.1,809.5 L317.5,804.3 L320.0,799.1 L322.4,793.8 L324.9,788.6 L327.4,783.4 L329.8,778.1 L332.3,772.9 L334.7,767.6 L337.2,762.4 L339.6,757.2 L342.1,751.9 L344.5,746.7 L347.0,741.5 L349.4,736.4 L351.9,731.2 L354.4,726.1 L356.8,721.0 L359.3,715.9 L361.7,710.9 L364.2,705.9 L366.6,700.9 L369.1,695.9 L371.5,691.0 L374.0,686.1 L376.4,681.3 L378.9,676.5" fill="none" stroke="#000" stroke-width="9.5" stroke-linecap="round" stroke-linejoin="round"/>
<path d="M185.5,1050.8 L188.1,1045.9 L190.7,1040.8 L193.3,1035.8 L195.9,1030.7 L198.5,1025.5 L201.1,1020.4 L203.7,1015.2 L206.3,1010.0 L208.9,1004.8 L211.5,999.6 L214.1,994.5 L216.8,989.3 L219.4,984.2 L222.0,979.2 L224.6,974.2 L227.2,969.2 L229.8,964.4 L232.4,959.6 L235.0,954.9 L237.6,950.2 L240.2,945.7 L242.8,941.3 L245.4,937.0 L248.0,932.8 L250.6,928.7 L253.2,924.7 L255.8,920.9 L258.4,917.1 L261.0,913.5 L263.6,910.0 L266.2,906.6 L268.8,903.3 L271.4,900.0 L274.0,896.9 L276.6,893.8 L279.3,890.8 L281.9,887.9 L284.5,885.0 L287.1,882.1 L289.7,879.3 L292.3,876.5 L294.9,873.8 L297.5,871.1 L300.1,868.4 L302.7,865.8 L305.3,863.2 L307.9,860.6 L310.5,858.1 L313.1,855.6 L315.7,853.1 L318.3,850.7 L320.9,848.2 L323.5,845.9 L326.1,843.5 L328.7,841.2 L331.3,838.9 L333.9,836.6 L336.5,834.3 L339.2,832.1 L341.8,829.9 L344.4,827.7 L347.0,825.6 L349.6,823.5 L352.2,821.4 L354.8,819.3 L357.4,817.2 L360.0,815.2 L362.6,813.2 L365.2,811.2 L367.8,809.2 L370.4,807.2 L373.0,805.3 L375.6,803.4 L378.2,801.5 L380.8,799.6 L383.4,797.7 L386.0,795.9 L388.6,794.0 L391.2,792.2 L393.8,790.4 L396.4,788.6 L399.0,786.8 L401.7,785.1 L404.3,783.3 L406.9,781.6 L409.5,779.9 L412.1,778.2 L414.7,776.4 L417.3,774.7 L419.9,773.1 L422.5,771.4 L425.1,769.7 L427.7,768.1 L430.3,766.4 L432.9,764.8 L435.5,763.1 L438.1,761.5 L440.7,759.8 L443.3,758.2 L445.9,756.6 L448.5,755.0 L451.1,753.4 L453.7,751.8 L456.3,750.1 L458.9,748.5 L461.6,746.9 L464.2,745.3 L466.8,743.7 L469.4,742.1 L472.0,740.5 L474.6,738.9 L477.2,737.3 L479.8,735.7 L482.4,734.0 L485.0,732.4 L487.6,730.8 L490.2,729.2 L492.8,727.5 L495.4,725.9 L498.0,724.2 L500.6,722.6 L503.2,720.9 L505.8,719.2 L508.4,717.6 L511.0,715.9 L513.6,714.2 L516.2,712.5 L518.8,710.8 L521.4,709.1 L524.1,707.4 L526.7,705.6 L529.3,703.9 L531.9,702.2 L534.5,700.4 L537.1,698.7 L539.7,696.9 L542.3,695.2 L544.9,693.4 L547.5,691.7 L550.1,689.9 L552.7,688.1 L555.3,686.3 L557.9,684.5 L560.5,682.8 L563.1,681.0 L565.7,679.2 L568.3,677.4 L570.9,675.6 L573.5,673.8 L576.1,672.0 L578.7,670.2 L581.3,668.3 L584.0,666.5 L586.6,664.7 L589.2,662.9 L591.8,661.1 L594.4,659.2 L597.0,657.4 L599.6,655.6 L602.2,653.7 L604.8,651.9 L607.4,650.1 L610.0,648.2 L612.6,646.4 L615.2,644.6 L617.8,642.7 L620.4,640.9 L623.0,639.1 L625.6,637.2 L628.2,635.4 L630.8,633.5 L633.4,631.7 L636.0,629.9 L638.6,628.0 L641.2,626.2 L643.8,624.4 L646.5,622.5 L649.1,620.7 L651.7,618.8 L654.3,617.0 L656.9,615.2 L659.5,613.4 L662.1,611.5 L664.7,609.7 L667.3,607.9 L669.9,606.0 L672.5,604.2 L675.1,602.4 L677.7,600.6 L680.3,598.7 L682.9,596.9 L685.5,595.1 L688.1,593.2 L690.7,591.4 L693.3,589.6 L695.9,587.7 L698.5,585.9 L701.1,584.1 L703.7,582.2 L706.4,580.4 L709.0,578.5 L711.6,576.7 L714.2,574.9 L716.8,573.0 L719.4,571.2 L722.0,569.3 L724.6,567.4 L727.2,565.6 L729.8,563.7 L732.4,561.9 L735.0,560.0 L737.6,558.1 L740.2,556.2 L742.8,554.4 L745.4,552.5 L748.0,550.6 L750.6,548.7 L753.2,546.8 L755.8,544.9 L758.4,543.0 L761.0,541.1 L763.6,539.1 L766.3,537.2 L768.9,535.3 L771.5,533.4 L774.1,531.4 L776.7,529.5 L779.3,527.5 L781.9,525.6 L784.5,523.6 L787.1,521.6 L789.7,519.7 L792.3,517.7 L794.9,515.7 L797.5,513.7 L800.1,511.7 L802.7,509.7 L805.3,507.7 L807.9,505.6 L810.5,503.6 L813.1,501.6 L815.7,499.5 L818.3,497.4 L820.9,495.4 L823.5,493.3 L826.1,491.2 L828.8,489.1 L831.4,487.0 L834.0,484.9 L836.6,482.8 L839.2,480.7 L841.8,478.5 L844.4,476.4 L847.0,474.2 L849.6,472.1 L852.2,469.9 L854.8,467.7 L857.4,465.5 L860.0,463.3 L862.6,461.1 L865.2,458.8 L867.8,456.6 L870.4,454.3 L873.0,452.1 L875.6,449.8 L878.2,447.5 L880.8,445.3 L883.4,443.0 L886.0,440.7 L888.7,438.3 L891.3,436.0 L893.9,433.7 L896.5,431.4 L899.1,429.0 L901.7,426.6 L904.3,424.3 L906.9,421.9 L909.5,419.5 L912.1,417.1 L914.7,414.7 L917.3,412.3 L919.9,409.9 L922.5,407.5 L925.1,405.0 L927.7,402.6 L930.3,400.1 L932.9,397.7 L935.5,395.2 L938.1,392.7 L940.7,390.2 L943.3,387.8 L945.9,385.3 L948.5,382.7 L951.2,380.2 L953.8,377.7 L956.4,375.2 L959.0,372.6 L961.6,370.1 L964.2,367.6 L966.8,365.0 L969.4,362.4 L972.0,359.9 L974.6,357.3 L977.2,354.7 L979.8,352.1 L982.4,349.5 L985.0,346.9 L987.6,344.3 L990.2,341.6 L992.8,339.0 L995.4,336.4 L998.0,333.7 L1000.6,331.1 L1003.2,328.4 L1005.8,325.8 L1008.4,323.1 L1011.1,320.5 L1013.7,317.8 L1016.3,315.1 L1018.9,312.4 L1021.5,309.7 L1024.1,307.0 L1026.7,304.3 L1029.3,301.6 L1031.9,298.9 L1034.5,296.1 L1037.1,293.4 L1039.7,290.7 L1042.3,287.9 L1044.9,285.2 L1047.5,282.5 L1050.1,279.7 L1052.7,276.9 L1055.3,274.2 L1057.9,271.4 L1060.5,268.6 L1063.1,265.9 L1065.7,263.1 L1068.3,260.3 L1070.9,257.5 L1073.6,254.7 L1076.2,251.9 L1078.8,249.1 L1081.4,246.3 L1084.0,243.5 L1086.6,240.6 L1089.2,237.8 L1091.8,235.0 L1094.4,232.2 L1097.0,229.3 L1099.6,226.5 L1102.2,223.7 L1104.8,220.8 L1107.4,218.0 L1110.0,215.1 L1112.6,212.2 L1115.2,209.4 L1117.8,206.5 L1120.4,203.7 L1123.0,200.8 L1125.6,197.9 L1128.2,195.0 L1130.8,192.2 L1133.5,189.3 L1136.1,186.4 L1138.7,183.5 L1141.3,180.6 L1143.9,177.7 L1146.5,174.8 L1149.1,171.9 L1151.7,169.0 L1154.3,166.1 L1156.9,163.2 L1159.5,160.3 L1162.1,157.4 L1164.7,154.5 L1167.3,151.5 L1169.9,148.6 L1172.5,145.7 L1175.1,142.7 L1177.7,139.7 L1180.3,136.8 L1182.9,133.8 L1185.5,130.8 L1188.1,127.8 L1190.7,124.8 L1193.3,121.7 L1196.0,118.7 L1198.6,115.6 L1201.2,112.5 L1203.8,109.4 L1206.4,106.3 L1209.0,103.1 L1211.6,100.0 L1214.2,96.8 L1216.8,93.6 L1219.4,90.3 L1222.0,87.1 L1224.6,83.8" fill="none" stroke="#f50000" stroke-width="8.8" stroke-linecap="butt" stroke-linejoin="round"/>
<path d="M185.2,1056.4V1031.4M185.2,15.8V40.8M218.1,1056.4V1043.9M218.1,15.8V28.3M250.9,1056.4V1043.9M250.9,15.8V28.3M283.8,1056.4V1043.9M283.8,15.8V28.3M316.6,1056.4V1043.9M316.6,15.8V28.3M349.5,1056.4V1031.4M349.5,15.8V40.8M382.4,1056.4V1043.9M382.4,15.8V28.3M415.2,1056.4V1043.9M415.2,15.8V28.3M448.1,1056.4V1043.9M448.1,15.8V28.3M480.9,1056.4V1043.9M480.9,15.8V28.3M513.8,1056.4V1031.4M513.8,15.8V40.8M546.7,1056.4V1043.9M546.7,15.8V28.3M579.5,1056.4V1043.9M579.5,15.8V28.3M612.4,1056.4V1043.9M612.4,15.8V28.3M645.2,1056.4V1043.9M645.2,15.8V28.3M678.1,1056.4V1031.4M678.1,15.8V40.8M711.0,1056.4V1043.9M711.0,15.8V28.3M743.8,1056.4V1043.9M743.8,15.8V28.3M776.7,1056.4V1043.9M776.7,15.8V28.3M809.5,1056.4V1043.9M809.5,15.8V28.3M842.4,1056.4V1031.4M842.4,15.8V40.8M875.3,1056.4V1043.9M875.3,15.8V28.3M908.1,1056.4V1043.9M908.1,15.8V28.3M941.0,1056.4V1043.9M941.0,15.8V28.3M973.8,1056.4V1043.9M973.8,15.8V28.3M1006.7,1056.4V1031.4M1006.7,15.8V40.8M1039.6,1056.4V1043.9M1039.6,15.8V28.3M1072.4,1056.4V1043.9M1072.4,15.8V28.3M1105.3,1056.4V1043.9M1105.3,15.8V28.3M1138.1,1056.4V1043.9M1138.1,15.8V28.3M1171.0,1056.4V1031.4M1171.0,15.8V40.8M1203.9,1056.4V1043.9M1203.9,15.8V28.3M1236.7,1056.4V1043.9M1236.7,15.8V28.3M1269.6,1056.4V1043.9M1269.6,15.8V28.3M178.7,1050.5H203.7M1276.2,1050.5H1251.2M178.7,1007.7H191.2M1276.2,1007.7H1263.7M178.7,964.8H191.2M1276.2,964.8H1263.7M178.7,922.0H191.2M1276.2,922.0H1263.7M178.7,879.1H203.7M1276.2,879.1H1251.2M178.7,836.3H191.2M1276.2,836.3H1263.7M178.7,793.4H191.2M1276.2,793.4H1263.7M178.7,750.6H191.2M1276.2,750.6H1263.7M178.7,707.8H203.7M1276.2,707.8H1251.2M178.7,664.9H191.2M1276.2,664.9H1263.7M178.7,622.1H191.2M1276.2,622.1H1263.7M178.7,579.2H191.2M1276.2,579.2H1263.7M178.7,536.4H203.7M1276.2,536.4H1251.2M178.7,493.5H191.2M1276.2,493.5H1263.7M178.7,450.7H191.2M1276.2,450.7H1263.7M178.7,407.9H191.2M1276.2,407.9H1263.7M178.7,365.0H203.7M1276.2,365.0H1251.2M178.7,322.2H191.2M1276.2,322.2H1263.7M178.7,279.3H191.2M1276.2,279.3H1263.7M178.7,236.5H191.2M1276.2,236.5H1263.7M178.7,193.6H203.7M1276.2,193.6H1251.2M178.7,150.8H191.2M1276.2,150.8H1263.7M178.7,108.0H191.2M1276.2,108.0H1263.7M178.7,65.1H191.2M1276.2,65.1H1263.7M178.7,22.3H203.7M1276.2,22.3H1251.2" stroke="#000" stroke-width="3" fill="none"/>
<rect x="178.7" y="15.8" width="1097.5" height="1040.6" fill="none" stroke="#000" stroke-width="3"/>
<text transform="translate(166.40,1070.80) scale(1,1.03)" font-size="57" text-anchor="end">0</text>
<text transform="translate(166.40,899.43) scale(1,1.03)" font-size="57" text-anchor="end">20</text>
<text transform="translate(166.40,728.06) scale(1,1.03)" font-size="57" text-anchor="end">40</text>
<text transform="translate(166.40,556.69) scale(1,1.03)" font-size="57" text-anchor="end">60</text>
<text transform="translate(166.40,385.32) scale(1,1.03)" font-size="57" text-anchor="end">80</text>
<text transform="translate(166.40,213.95) scale(1,1.03)" font-size="57" text-anchor="end">00</text>
<path d="M0.373,0 L0.263,0 L0.263,0.56 C0.235,0.54 0.2,0.527 0.095,0.525 L0.095,0.582 C0.16,0.589 0.21,0.612 0.247,0.647 C0.27,0.67 0.285,0.692 0.295,0.71 L0.373,0.71 Z" transform="translate(71.32,213.95) scale(57,-57)" fill="#000"/>
<text transform="translate(166.40,42.58) scale(1,1.03)" font-size="57" text-anchor="end">20</text>
<path d="M0.373,0 L0.263,0 L0.263,0.56 C0.235,0.54 0.2,0.527 0.095,0.525 L0.095,0.582 C0.16,0.589 0.21,0.612 0.247,0.647 C0.27,0.67 0.285,0.692 0.295,0.71 L0.373,0.71 Z" transform="translate(71.32,42.58) scale(57,-57)" fill="#000"/>
<text transform="translate(185.20,1123.90) scale(1,1.03)" font-size="57" text-anchor="middle">0</text>
<path d="M0.373,0 L0.263,0 L0.263,0.56 C0.235,0.54 0.2,0.527 0.095,0.525 L0.095,0.582 C0.16,0.589 0.21,0.612 0.247,0.647 C0.27,0.67 0.285,0.692 0.295,0.71 L0.373,0.71 Z" transform="translate(333.65,1123.70) scale(57,-57)" fill="#000"/>
<text transform="translate(513.80,1123.90) scale(1,1.03)" font-size="57" text-anchor="middle">2</text>
<text transform="translate(678.10,1123.90) scale(1,1.03)" font-size="57" text-anchor="middle">3</text>
<text transform="translate(842.40,1123.90) scale(1,1.03)" font-size="57" text-anchor="middle">4</text>
<text transform="translate(1006.70,1123.90) scale(1,1.03)" font-size="57" text-anchor="middle">5</text>
<text transform="translate(1171.00,1123.90) scale(1,1.03)" font-size="57" text-anchor="middle">6</text>
<text x="491.2" y="1196.3" font-size="57">Strain</text>
<g fill="none" stroke="#000" stroke-width="3.4" stroke-linecap="round"><path d="M689.5,1171.5 C687.5,1167.8 684.5,1166.8 681.5,1167 C676,1167.4 671.8,1171 672.3,1175.2 C672.7,1178.3 675.5,1180.2 679.5,1180.2 L684.2,1180.1"/><path d="M678.5,1180.3 C671,1180.6 665.6,1184.5 665.3,1189.3 C665.1,1193.3 668.2,1195.3 672.3,1195.3 C677.5,1195.3 682.5,1192 686,1188"/></g>
<circle cx="688.8" cy="1171.2" r="2.2" fill="#000"/>
<text x="735.8" y="1196.3" font-size="57">(mm/mm)</text>
<g transform="translate(47.5,740.5) rotate(-90)">
<text x="-2.6" y="0" font-size="57">Stress</text>
<g fill="none" stroke="#000" stroke-linecap="round"><ellipse cx="193.3" cy="-14.6" rx="11.6" ry="11.0" stroke-width="3.4" transform="rotate(-8 193.3 -14.6)"/><path d="M194,-25.6 L212.5,-26.4" stroke-width="3.8"/></g>
<text x="258.5" y="0" font-size="57">(kPa)</text>
</g>
<line x1="275.2" y1="134.7" x2="378.8" y2="134.7" stroke="#000" stroke-width="8.7"/>
<line x1="275.2" y1="199.1" x2="378.8" y2="199.1" stroke="#f50000" stroke-width="7.5"/>
<line x1="274.9" y1="263.4" x2="380" y2="263.4" stroke="#f50000" stroke-width="6" stroke-linecap="round" stroke-dasharray="10.9 22.6"/>
<text x="402.5" y="151.2" font-size="57">SR-25 gel</text>
<text x="402.5" y="216" font-size="57">SR-02 gel</text>
<text x="402.5" y="280.5" font-size="57">NH_SR-02 gel</text>
</svg></body></html>
